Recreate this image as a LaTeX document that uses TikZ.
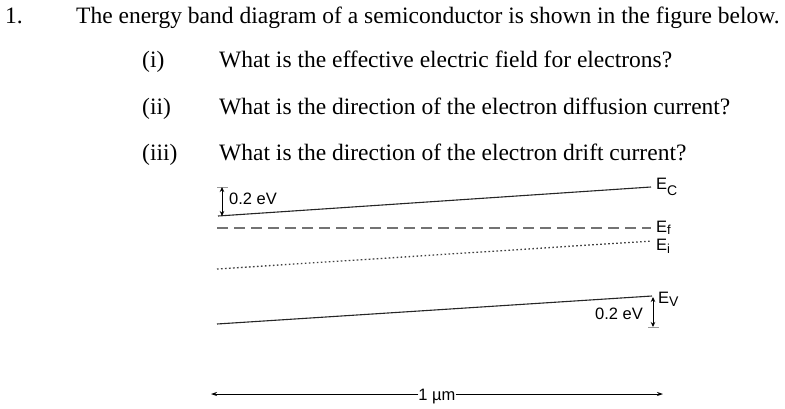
\documentclass[tikz,border=0pt]{standalone}
\usepackage{fontspec}
\setmainfont{Liberation Serif}
\newfontfamily\diagfont{Liberation Sans}
\usetikzlibrary{arrows.meta}
\begin{document}
\begin{tikzpicture}[x=1pt,y=-1pt,
  qtext/.style={anchor=base west,inner sep=0pt,font=\fontsize{23.5}{27}\selectfont},
  lbl/.style={inner sep=0pt,font=\diagfont\fontsize{16.5}{19}\selectfont},
  band/.style={line width=1.1pt,black!85},
  fermi/.style={line width=1.4pt,black!55,dash pattern=on 11pt off 6pt},
  intr/.style={line width=1.3pt,black!75,dash pattern=on 1.6pt off 2.4pt},
  gap/.style={line width=1pt,{Stealth[length=5pt,width=4.5pt]}-{Stealth[length=5pt,width=4.5pt]}},
  tick/.style={line width=0.6pt,black!40},
  dim/.style={line width=0.8pt}]
\path[use as bounding box,fill=white] (0,0) rectangle (785,408);
% text
\node[qtext] (n1) at (5,23) {1.};
\node[qtext] (q0) at (76,23) {The energy band diagram of a semiconductor is shown in the figure below.};
\node[qtext] (l1) at (142,67) {(i)};
\node[qtext] (q1) at (219,67) {What is the effective electric field for electrons?};
\node[qtext] (l2) at (142,114) {(ii)};
\node[qtext] (q2) at (219,114) {What is the direction of the electron diffusion current?};
\node[qtext] (l3) at (142,160) {(iii)};
\node[qtext] (q3) at (219,160) {What is the direction of the electron drift current?};
% band lines
\coordinate (ecL) at (218,216);
\coordinate (ecR) at (651,187);
\coordinate (efL) at (217,228);
\coordinate (efR) at (651,228);
\coordinate (eiL) at (217,269);
\coordinate (eiR) at (652,241);
\coordinate (evL) at (217,324);
\coordinate (evR) at (652,296);
\draw[band] (ecL) -- (ecR);
\draw[fermi] (efL) -- (efR);
\draw[intr] (eiL) -- (eiR);
\draw[band] (evL) -- (evR);
% labels
\node[lbl,anchor=base west] (Ec) at (656,189) {E\raisebox{-6pt}{\fontsize{14}{16}\selectfont C}};
\node[lbl,anchor=base west] (Ef) at (656,232) {E\raisebox{-2pt}{\fontsize{13}{15}\selectfont f}};
\node[lbl,anchor=base west] (Ei) at (656,250) {E\raisebox{-3pt}{\fontsize{13}{15}\selectfont i}};
\node[lbl,anchor=base west] (Ev) at (658,303) {E\raisebox{-3pt}{\fontsize{14}{16}\selectfont V}};
% 0.2 eV markers
\coordinate (gt1) at (222,187);
\coordinate (gb1) at (222,216);
\draw[tick] (217,187) -- (228,187);
\draw[gap] (gt1) -- (gb1);
\node[lbl,anchor=base west] (g1) at (229,204) {0.2 eV};
\coordinate (gt2) at (653,297);
\coordinate (gb2) at (653,327);
\draw[tick] (648,327) -- (659,327);
\draw[gap] (gt2) -- (gb2);
\node[lbl,anchor=base east] (g2) at (643,319) {0.2 eV};
% 1 um
\coordinate (dL) at (211,394);
\coordinate (dR) at (663,394);
\node[lbl,inner sep=0pt,anchor=base] (um) at (437,400) {1 µm};
\draw[dim,-{Stealth[length=6pt,width=4pt]}] (um.west |- dL) -- (dL);
\draw[dim,-{Stealth[length=6pt,width=4pt]}] (um.east |- dR) -- (dR);
\end{tikzpicture}
\end{document}
